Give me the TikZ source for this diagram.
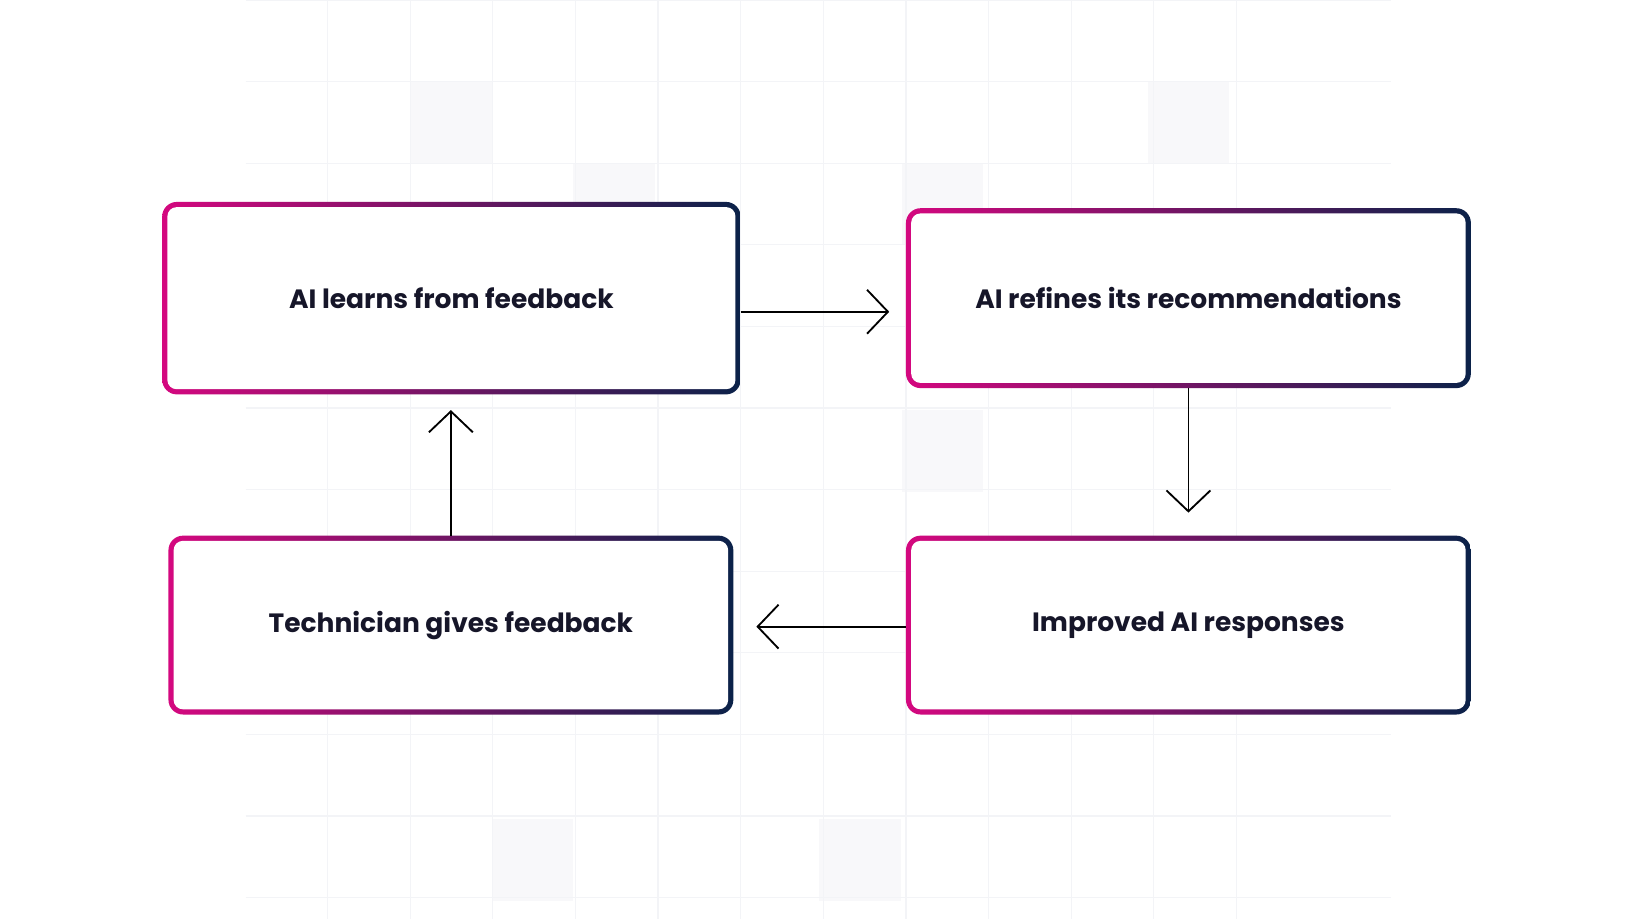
\documentclass[tikz,border=0pt]{standalone}
\usepackage{fontspec}
\setmainfont{Poppins}
\usetikzlibrary{arrows.meta,positioning,calc}
\definecolor{pinkc}{HTML}{D4087F}
\definecolor{navyc}{HTML}{0B2249}
\definecolor{inkc}{HTML}{161629}
\definecolor{gridc}{HTML}{F3F4F7}
\tikzset{
  lbl/.style={font=\bfseries\fontsize{7.2}{9}\selectfont, text=inkc, inner sep=0pt},
  flow/.style={black, line width=0.5pt, -{Straight Barb[length=2mm,width=4.2mm,line width=0.5pt]}}
}
% box with gradient outline: name, left, bottom, right, top, text
\newcommand{\gbox}[6]{
  \shade[left color=pinkc, right color=navyc, rounded corners=4pt] (#2,#3) rectangle (#4,#5);
  \fill[white, rounded corners=2.5pt] ($(#2,#3)+(5,-5)$) rectangle ($(#4,#5)+(-5,5)$);
  \coordinate (#1-sw) at (#2,#3);
  \coordinate (#1-ne) at (#4,#5);
  \node[lbl] (#1) at ($(#1-sw)!0.5!(#1-ne)$) {#6};
}
\begin{document}
\begin{tikzpicture}[x=0.01cm,y=-0.01cm]
  \useasboundingbox (0,0) rectangle (1560,878);
  \fill[white] (0,0) rectangle (1560,878);
  % faint background cells
  \foreach \x/\y in {392/78,1097/78,548/156,862/156,862/392,470/783,783/783}
    \fill[gridc!60] (\x,\y) rectangle ++(78,78);
  \foreach \x in {313,392,...,1254} \draw[gridc, line width=0.3pt] (\x,0) -- (\x,878);
  \foreach \y in {0,78,...,860} \draw[gridc, line width=0.3pt] (235,\y) -- (1330,\y);

  \gbox{learn}{155}{377}{708}{193}{AI learns from feedback}
  \gbox{refine}{866}{371}{1406}{199}{AI refines its recommendations}
  \gbox{improve}{866}{683}{1406}{512}{Improved AI responses}
  \gbox{tech}{161}{683}{701}{512}{Technician gives feedback}

  \coordinate (ab) at (850,298);
  \coordinate (bc) at (1136,490);
  \coordinate (cd) at (723,599);
  \coordinate (da) at (431,392);
  \draw[flow] (learn-ne |- ab) -- (ab);
  \draw[flow] (bc |- refine-sw) -- (bc);
  \draw[flow] (improve-sw |- cd) -- (cd);
  \draw[flow] (da |- tech-ne) -- (da);
\end{tikzpicture}
\end{document}
